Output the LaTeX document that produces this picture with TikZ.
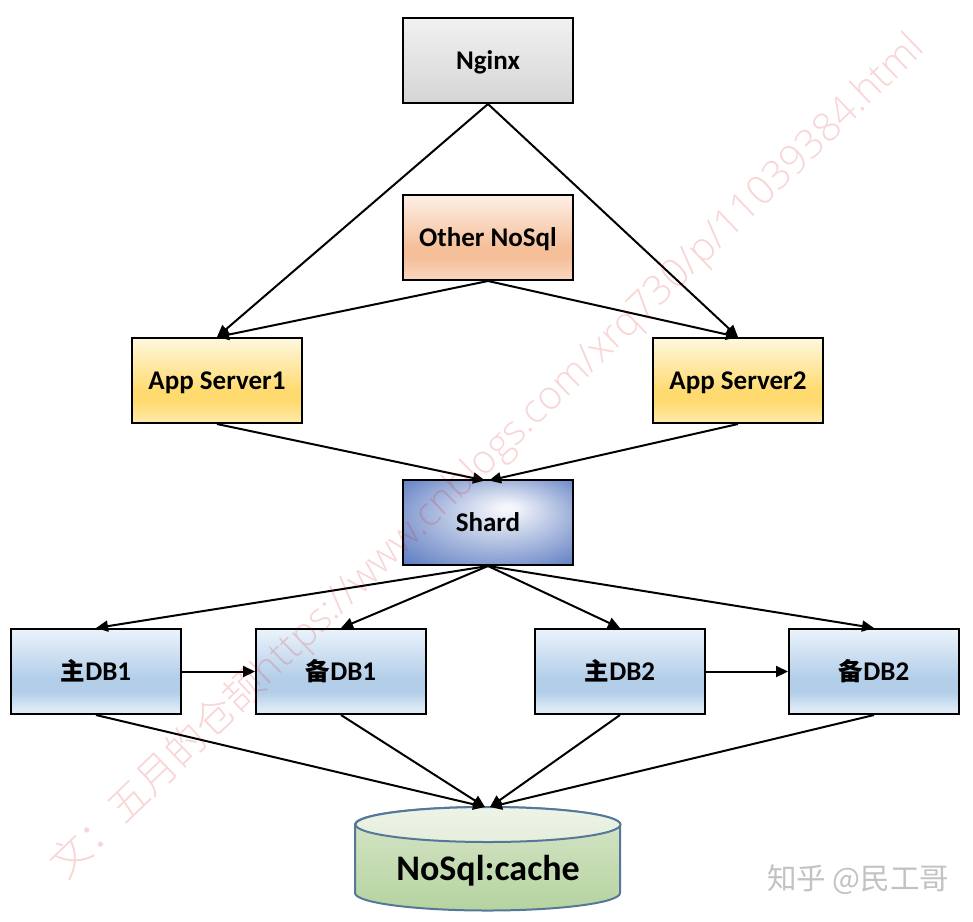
\documentclass[tikz,border=0pt]{standalone}
\usepackage{fontspec}
\setmainfont{Carlito}
\newfontfamily\cjk{Noto Sans CJK SC}
\newfontfamily\cjkthin{Noto Sans CJK SC Light}
\newfontfamily\wmfont{Open Sans Light}
\usetikzlibrary{arrows.meta,calc}
\definecolor{otherbot}{HTML}{F5BF99}
\definecolor{otheredge}{HTML}{F9D6BE}
\definecolor{othertop}{HTML}{FDEFE6}
\definecolor{appbot}{HTML}{FFDA6E}
\definecolor{appedge}{HTML}{FFE9A8}
\definecolor{apptop}{HTML}{FFF8E0}
\pgfdeclareverticalshading{nginxshade}{100bp}{color(0bp)=(black!22); color(100bp)=(white)}
\pgfdeclareverticalshading{othershade}{100bp}{color(0bp)=(otheredge); color(26bp)=(otheredge); color(38bp)=(otherbot); color(44bp)=(otherbot); color(75bp)=(othertop); color(100bp)=(othertop)}
\pgfdeclareverticalshading{appshade}{100bp}{color(0bp)=(appedge); color(26bp)=(appedge); color(38bp)=(appbot); color(44bp)=(appbot); color(75bp)=(apptop); color(100bp)=(apptop)}
\definecolor{dbtop}{HTML}{EAF3FB}
\definecolor{dbmid}{HTML}{B3CEE9}
\definecolor{dbbot}{HTML}{DCEAF6}
\pgfdeclareverticalshading{dbshade}{100bp}{color(0bp)=(dbbot); color(28bp)=(dbbot); color(38bp)=(dbmid); color(46bp)=(dbmid); color(75bp)=(dbtop); color(100bp)=(dbtop)}
\definecolor{shardc}{HTML}{4468B8}
\pgfdeclareradialshading{shardshade}{\pgfpoint{6bp}{9bp}}{color(0bp)=(white!96!shardc); color(3bp)=(white!92!shardc); color(26bp)=(shardc!62!white); color(42bp)=(shardc)}
\definecolor{cyltopa}{HTML}{F2F7ED}
\definecolor{cyltopb}{HTML}{E0EBD5}
\definecolor{cylbota}{HTML}{D8E6CA}
\definecolor{cylbotb}{HTML}{B5D3A0}
\definecolor{cyledge}{HTML}{55789A}
\pgfdeclareverticalshading{cylbody}{100bp}{color(0bp)=(cylbotb); color(25bp)=(cylbotb); color(75bp)=(cylbota); color(100bp)=(cylbota)}
\pgfdeclareverticalshading{cyltop}{100bp}{color(0bp)=(cyltopb); color(100bp)=(cyltopa)}
\tikzset{
  x=1pt,y=-1pt,
  boxbase/.style={draw=black,line width=2pt,minimum width=170pt,minimum height=85pt,inner sep=0pt,text height=17.5pt,text depth=0pt,font=\fontsize{27}{30}\selectfont\bfseries,text=black},
  nginxbox/.style={boxbase,shading=nginxshade},
  otherbox/.style={boxbase,shading=othershade},
  appbox/.style={boxbase,shading=appshade},
  shardbox/.style={boxbase,shading=shardshade},
  dbbox/.style={boxbase,shading=dbshade},
  conn/.style={draw=black,line width=2pt,-{Triangle[length=12pt,width=11pt]}},
}
\newcommand{\cj}[1]{{\fontsize{24.5}{30}\selectfont\cjk #1}}
\begin{document}
\begin{tikzpicture}
\useasboundingbox (0,0) rectangle (973,921);
\fill[white] (0,0) rectangle (973,921);
\node[nginxbox] (nginx) at (488,60.5) {Nginx};
\node[otherbox] (other) at (488,237.5) {Other NoSql};
\node[appbox] (app1) at (217,380.5) {App Server1};
\node[appbox] (app2) at (738,380.5) {App Server2};
\node[shardbox] (shard) at (488,522.5) {Shard};
\node[dbbox] (m1) at (96,671.5) {\cj{主}DB1};
\node[dbbox] (b1) at (341,671.5) {\cj{备}DB1};
\node[dbbox] (m2) at (620,671.5) {\cj{主}DB2};
\node[dbbox] (b2) at (874,671.5) {\cj{备}DB2};
% cylinder
\path[shading=cylbody,draw=cyledge,line width=2pt] (355,824.5) -- (355,893) arc[start angle=180,end angle=360,x radius=132.5,y radius=-17.5] -- (620,824.5) arc[start angle=0,end angle=180,x radius=132.5,y radius=-17.5] -- cycle;
\path[shading=cyltop,draw=cyledge,line width=2pt] (488,824.5) ellipse[x radius=132.5,y radius=17.5];
\node[font=\fontsize{36}{40}\selectfont\bfseries,inner sep=0pt] (cache) at (488,871) {NoSql:cache};
\coordinate (shardl) at (485,480.5);
\coordinate (shardr) at (489,480.5);
\coordinate (cachel) at (485,807);
\coordinate (cacher) at (490,807);
% connectors
\draw[conn] (nginx.south) -- (app1.north);
\draw[conn] (nginx.south) -- (app2.north);
\draw[conn] (other.south) -- (app1.north);
\draw[conn] (other.south) -- (app2.north);
\draw[conn] (app1.south) -- (shardl);
\draw[conn] (app2.south) -- (shardr);
\draw[conn] (shard.south) -- (m1.north);
\draw[conn] (shard.south) -- (b1.north);
\draw[conn] (shard.south) -- (m2.north);
\draw[conn] (shard.south) -- (b2.north);
\draw[conn] (m1.east) -- (b1.west);
\draw[conn] (m2.east) -- (b2.west);
\draw[conn] (m1.south) -- (cachel);
\draw[conn] (b1.south) -- (cachel);
\draw[conn] (m2.south) -- (cacher);
\draw[conn] (b2.south) -- (cacher);
% watermark
\node[rotate=44,opacity=0.16,text=red!85!black,inner sep=0pt,font=\fontsize{40}{46}\selectfont\wmfont] (wm) at (488,457) {{\cjkthin 文：五月的仓颉}https://www.cnblogs.com/xrq730/p/11039384.html};
\node[text=black!24,inner sep=0pt,font=\fontsize{29.5}{32}\selectfont\cjk] (zh) at (858,880) {知乎 @民工哥};
\end{tikzpicture}
\end{document}
